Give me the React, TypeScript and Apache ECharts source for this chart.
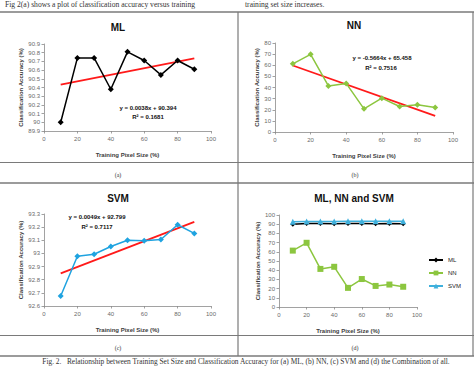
import React, { useEffect, useRef } from "react";
import * as echarts from "echarts";

const xs = [10, 20, 30, 40, 50, 60, 70, 80, 90];
const mlAcc = [90.0, 90.74, 90.74, 90.38, 90.81, 90.71, 90.545, 90.71, 90.61];
const nnAcc = [61.3, 69.8, 41.4, 43.7, 20.8, 30.4, 22.9, 24.4, 22.0];
const svmAcc = [92.676, 92.979, 92.994, 93.053, 93.1, 93.096, 93.106, 93.218, 93.152];

const trendX = [10, 90];
const mlTrend = [90.432, 90.736];
const nnTrend = [59.794, 14.482];
const svmTrend = [92.848, 93.24];

const mlEq = ["y = 0.0038x + 90.394", "R² = 0.1681"];
const nnEq = ["y = -0.5664x + 65.458", "R² = 0.7516"];
const svmEq = ["y = 0.0049x + 92.799", "R² = 0.7117"];

const xTicks = { min: 0, max: 100, interval: 20 };
const mlTicks = { min: 89.9, max: 90.9, interval: 0.1 };
const nnTicks = { min: 0, max: 80, interval: 10 };
const svmTicks = { min: 92.6, max: 93.3, interval: 0.1 };
const allTicks = { min: 0, max: 100, interval: 10 };

const titles = ["ML", "NN", "SVM", "ML, NN and SVM"];
const xName = "Training Pixel Size (%)";
const yName = "Classification Accuracy (%)";

const FONT = "'Liberation Sans', Arial, sans-serif";
const SERIF = "'Liberation Serif', 'Times New Roman', serif";
const AX = "#8a8a8a";
const LBL = "#6a6a6a";

const pairs = (a: number[], b: number[]) => a.map((x, i) => [x, b[i]]);

export default function App() {
  const ref = useRef<HTMLDivElement>(null);
  useEffect(() => {
    if (!ref.current) return;
    const chart = echarts.init(ref.current, undefined, { renderer: "svg" });

    const grids = [
      { left: 44, top: 44, width: 167, height: 87 },
      { left: 275, top: 43, width: 178, height: 89 },
      { left: 44, top: 214, width: 167, height: 92 },
      { left: 279, top: 215, width: 138, height: 92 },
    ];
    const yGaps = [16, 15, 16, 14];
    const yTicksArr = [mlTicks, nnTicks, svmTicks, allTicks];
    const dec = [1, 0, 1, 0];

    const xAxis = grids.map((_, i) => ({
      type: "value",
      gridIndex: i,
      ...xTicks,
      name: xName,
      nameLocation: "middle",
      nameGap: 21,
      nameTextStyle: { fontSize: 6, fontWeight: "bold", color: "#404040", fontFamily: FONT },
      axisLine: { lineStyle: { color: AX, width: 0.8 } },
      axisTick: { show: true, length: 2.5, lineStyle: { color: AX, width: 0.8 } },
      axisLabel: { fontSize: 6, color: LBL, margin: 5, fontFamily: FONT },
      splitLine: { show: false },
    }));
    const yAxis = grids.map((_, i) => ({
      type: "value",
      gridIndex: i,
      ...yTicksArr[i],
      name: yName,
      nameLocation: "middle",
      nameRotate: 90,
      nameGap: yGaps[i],
      nameTextStyle: { fontSize: 6, fontWeight: "bold", color: "#404040", fontFamily: FONT },
      axisLine: { show: true, lineStyle: { color: AX, width: 0.8 } },
      axisTick: { show: true, length: 2.5, lineStyle: { color: AX, width: 0.8 } },
      axisLabel: {
        fontSize: 6,
        color: LBL,
        margin: 4,
        fontFamily: FONT,
        formatter: (v: number) => String(Math.round(v * Math.pow(10, dec[i])) / Math.pow(10, dec[i])),
      },
      splitLine: { show: false },
    }));

    const line = (name: string, gi: number, data: number[], color: string, symbol: string, size: number, width = 1.5) => ({
      type: "line",
      name,
      xAxisIndex: gi,
      yAxisIndex: gi,
      data: pairs(xs, data),
      symbol,
      symbolSize: size,
      lineStyle: { color, width },
      itemStyle: { color },
      z: 3,
    });
    const trend = (name: string, gi: number, data: number[]) => ({
      type: "line",
      name,
      xAxisIndex: gi,
      yAxisIndex: gi,
      data: pairs(trendX, data),
      symbol: "none",
      lineStyle: { color: "#ff1a1a", width: 1.8 },
      z: 2,
    });

    const GREEN = "#8cc63f";
    const BLUE = "#1fa3e0";
    const LBLUE = "#3fb0dc";

    const series = [
      line("ML data", 0, mlAcc, "#000000", "diamond", 6),
      trend("Linear (ML)", 0, mlTrend),
      line("NN data", 1, nnAcc, GREEN, "diamond", 6),
      trend("Linear (NN)", 1, nnTrend),
      line("SVM data", 2, svmAcc, BLUE, "diamond", 6),
      trend("Linear (SVM)", 2, svmTrend),
      line("ML", 3, mlAcc, "#000000", "diamond", 5),
      line("NN", 3, nnAcc, GREEN, "rect", 6),
      line("SVM", 3, svmAcc, LBLUE, "triangle", 6),
    ];

    const hLine = (y: number, w = 1) => ({
      type: "line",
      shape: { x1: 0, y1: y, x2: 474, y2: y },
      style: { stroke: "#7a7a7a", lineWidth: w },
    });
    const vLine = (x: number) => ({
      type: "line",
      shape: { x1: x, y1: 12, x2: x, y2: 356 },
      style: { stroke: "#7a7a7a", lineWidth: 1.2 },
    });
    const txt = (text: string, x: number, y: number, font: string, fill = "#111", align = "center") => ({
      type: "text",
      style: { text, x, y, font, fill, textAlign: align, textVerticalAlign: "middle" },
    });

    const graphic = [
      hLine(12, 1.3),
      hLine(162.5, 1),
      hLine(183, 1.3),
      hLine(335.5, 1),
      hLine(356, 1.3),
      vLine(238),
      vLine(473),
      txt("Fig 2(a) shows a plot of classification accuracy versus training", 5, 4, `7.6px ${SERIF}`, "#333", "left"),
      txt("training set size increases.", 245, 4.5, `7.6px ${SERIF}`, "#333", "left"),
      txt("Fig. 2.   Relationship between Training Set Size and Classification Accuracy for (a) ML, (b) NN, (c) SVM and (d) the Combination of all.", 246, 361, `7.4px ${SERIF}`, "#333", "center"),
      txt("(a)", 118, 175, `6px ${SERIF}`, "#333"),
      txt("(b)", 355, 175, `6px ${SERIF}`, "#333"),
      txt("(c)", 118, 348, `6px ${SERIF}`, "#333"),
      txt("(d)", 355, 348, `6px ${SERIF}`, "#333"),
      txt(mlEq[0], 148, 108, `bold 6px ${FONT}`, "#111"),
      txt(mlEq[1], 148, 117, `bold 6px ${FONT}`, "#111"),
      txt(nnEq[0], 382, 58, `bold 6px ${FONT}`, "#111"),
      txt(nnEq[1], 381, 68, `bold 6px ${FONT}`, "#111"),
      txt(svmEq[0], 97, 217, `bold 6px ${FONT}`, "#111"),
      txt(svmEq[1], 97, 227, `bold 6px ${FONT}`, "#111"),
    ];

    const titleCenters = [
      [118, 29],
      [354, 27],
      [118, 200],
      [354, 200],
    ];

    chart.setOption({
      animation: false,
      backgroundColor: "#ffffff",
      title: titles.map((t, i) => ({
        text: t,
        left: titleCenters[i][0],
        top: titleCenters[i][1] - 6.5,
        textAlign: "center",
        padding: 0,
        textStyle: { fontSize: 10, fontWeight: "bold", color: "#111", fontFamily: FONT },
      })),
      grid: grids,
      xAxis,
      yAxis,
      legend: {
        data: ["ML", "NN", "SVM"],
        orient: "vertical",
        left: 428,
        top: 257,
        itemGap: 7,
        itemWidth: 14,
        itemHeight: 6,
        textStyle: { fontSize: 6, color: "#222", fontFamily: FONT },
        padding: 0,
      },
      series,
      graphic,
    });
    return () => chart.dispose();
  }, []);
  return (
    <div
      ref={ref}
      style={{ position: "fixed", left: 0, top: 0, width: 474, height: 367, background: "#fff" }}
    />
  );
}
